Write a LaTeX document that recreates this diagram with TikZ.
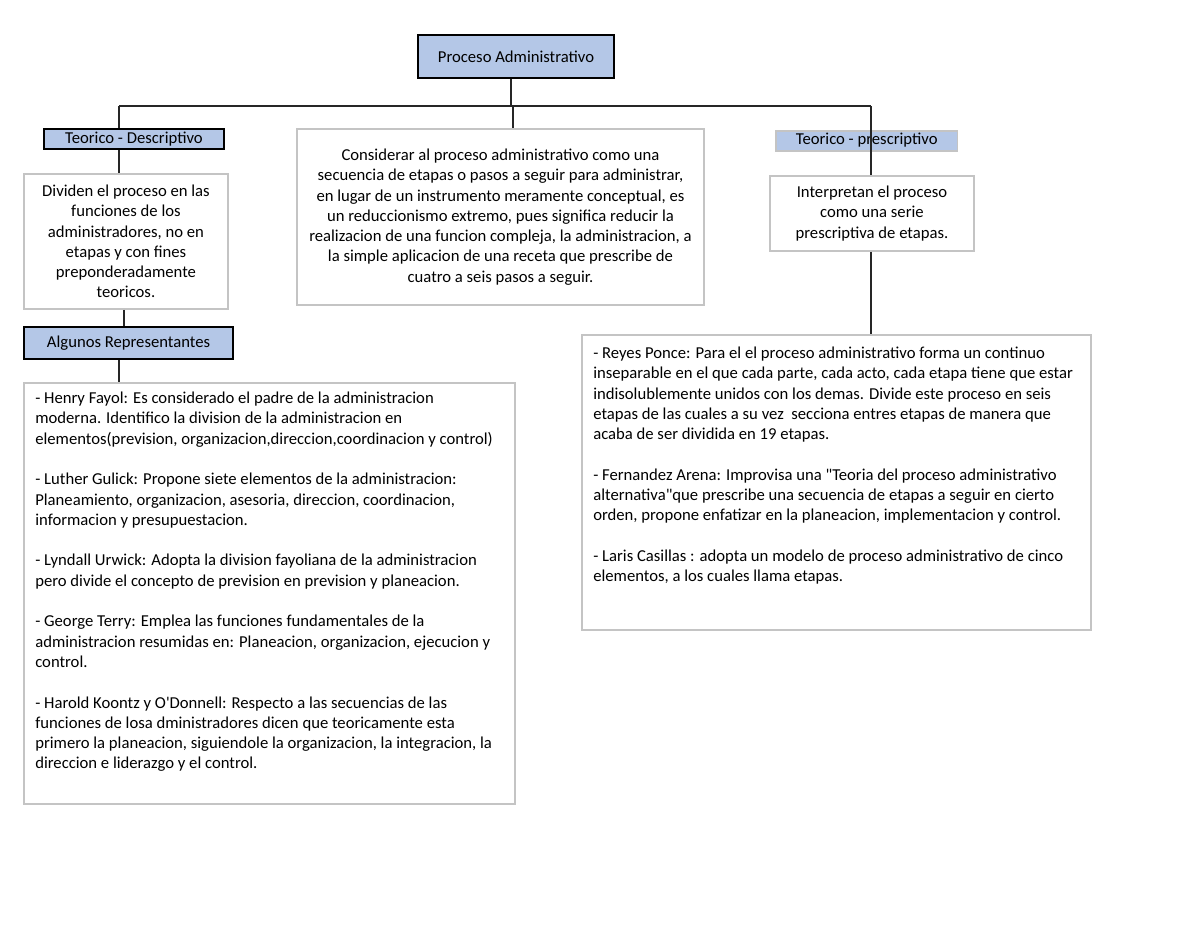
\documentclass[tikz,border=0pt]{standalone}
\usepackage{fontspec}
\setmainfont{Carlito}[Ligatures=TeXOff]
\definecolor{boxblue}{HTML}{B4C7E7}
\definecolor{boxgray}{HTML}{C4C4C4}
\begin{document}
\begin{tikzpicture}[x=0.66pt,y=-0.66pt,font=\fontsize{11}{13.4}\selectfont,
  bluebox/.style={draw=black,line width=1.3pt,fill=boxblue,inner sep=0pt,anchor=north west,align=center},
  graybox/.style={draw=boxgray,line width=1.3pt,fill=white,inner sep=0pt,anchor=north west,align=center},
  prebox/.style={draw=boxgray,line width=1pt,fill=boxblue,inner sep=0pt,anchor=north west,align=center},
  link/.style={draw=black!85,line width=0.75pt},
  txt/.style={inner sep=0pt,anchor=north west,align=left}]
\useasboundingbox[fill=white] (0,0) rectangle (1200,927);

\node[bluebox,minimum width=129.4pt,minimum height=28.4pt] (top) at (417,34) {Proceso Administrativo};
\node[bluebox,minimum width=118.8pt,minimum height=13.2pt] (desc) at (43,128) {\strut Teorico - Descriptivo};
\node[graybox,minimum width=134.6pt,minimum height=89.1pt] (divid) at (23,173)
  {Dividen el proceso en las\\ funciones de los\\ administradores, no en\\ etapas y con fines\\ preponderadamente\\ teoricos.};
\node[bluebox,minimum width=138pt,minimum height=21.1pt] (alg) at (23,326) {\strut Algunos Representantes};
\node[graybox,minimum width=324.1pt,minimum height=277.9pt] (left) at (23,382) {};
\node[graybox,minimum width=268.6pt,minimum height=116.2pt] (mid) at (296,128)
  {Considerar al proceso administrativo como una\\ secuencia de etapas o pasos a seguir para administrar,\\ en lugar de un instrumento meramente conceptual, es\\ un reduccionismo extremo, pues significa reducir la\\ realizacion de una funcion compleja, la administracion, a\\ la simple aplicacion de una receta que prescribe de\\ cuatro a seis pasos a seguir.};
\node[prebox,minimum width=120.1pt,minimum height=12.5pt] (pre) at (775,130) {\strut Teorico - prescriptivo};
\node[graybox,minimum width=134.6pt,minimum height=49.5pt] (interp) at (769,175)
  {Interpretan el proceso\\ como una serie\\ prescriptiva de etapas.};
\node[graybox,minimum width=336pt,minimum height=194.7pt] (right) at (581,334) {};

\node[txt] (lefttxt) at (35,389) {\strut - Henry Fayol: Es considerado el padre de la administracion\\
moderna. Identifico la division de la administracion en\\
elementos(prevision, organizacion,direccion,coordinacion y control)\\[13.4pt]
- Luther Gulick: Propone siete elementos de la administracion:\\
Planeamiento, organizacion, asesoria, direccion, coordinacion,\\
informacion y presupuestacion.\\[13.4pt]
- Lyndall Urwick: Adopta la division fayoliana de la administracion\\
pero divide el concepto de prevision en prevision y planeacion.\\[13.4pt]
- George Terry: Emplea las funciones fundamentales de la\\
administracion resumidas en: Planeacion, organizacion, ejecucion y\\
control.\\[13.4pt]
- Harold Koontz y O'Donnell: Respecto a las secuencias de las\\
funciones de losa dministradores dicen que teoricamente esta\\
primero la planeacion, siguiendole la organizacion, la integracion, la\\
direccion e liderazgo y el control.};

\node[txt] (righttxt) at (593,344) {\strut - Reyes Ponce: Para el el proceso administrativo forma un continuo\\
inseparable en el que cada parte, cada acto, cada etapa tiene que estar\\
indisolublemente unidos con los demas. Divide este proceso en seis\\
etapas de las cuales a su vez\ \ secciona entres etapas de manera que\\
acaba de ser dividida en 19 etapas.\\[13.4pt]
- Fernandez Arena: Improvisa una "Teoria del proceso administrativo\\
alternativa"que prescribe una secuencia de etapas a seguir en cierto\\
orden, propone enfatizar en la planeacion, implementacion y control.\\[13.4pt]
- Laris Casillas : adopta un modelo de proceso administrativo de cinco\\
elementos, a los cuales llama etapas.};

\coordinate (hl) at (119,106);
\coordinate (hr) at (871,106);
\coordinate (hm) at (513,106);
\coordinate (tv) at (511,106);
\coordinate (cl) at (124,0);

\draw[link] (top.south -| tv) -- (tv);
\draw[link] (hl) -- (hr);
\draw[link] (hl) -- (hl |- desc.north);
\draw[link] (hm) -- (hm |- mid.north);
\draw[link] (hr) -- (hr |- interp.north);
\draw[link] (desc.south -| hl) -- (divid.north -| hl);
\draw[link] (divid.south -| cl) -- (alg.north -| cl);
\draw[link] (alg.south -| hl) -- (left.north -| hl);
\draw[link] (interp.south -| hr) -- (right.north -| hr);
\end{tikzpicture}
\end{document}
